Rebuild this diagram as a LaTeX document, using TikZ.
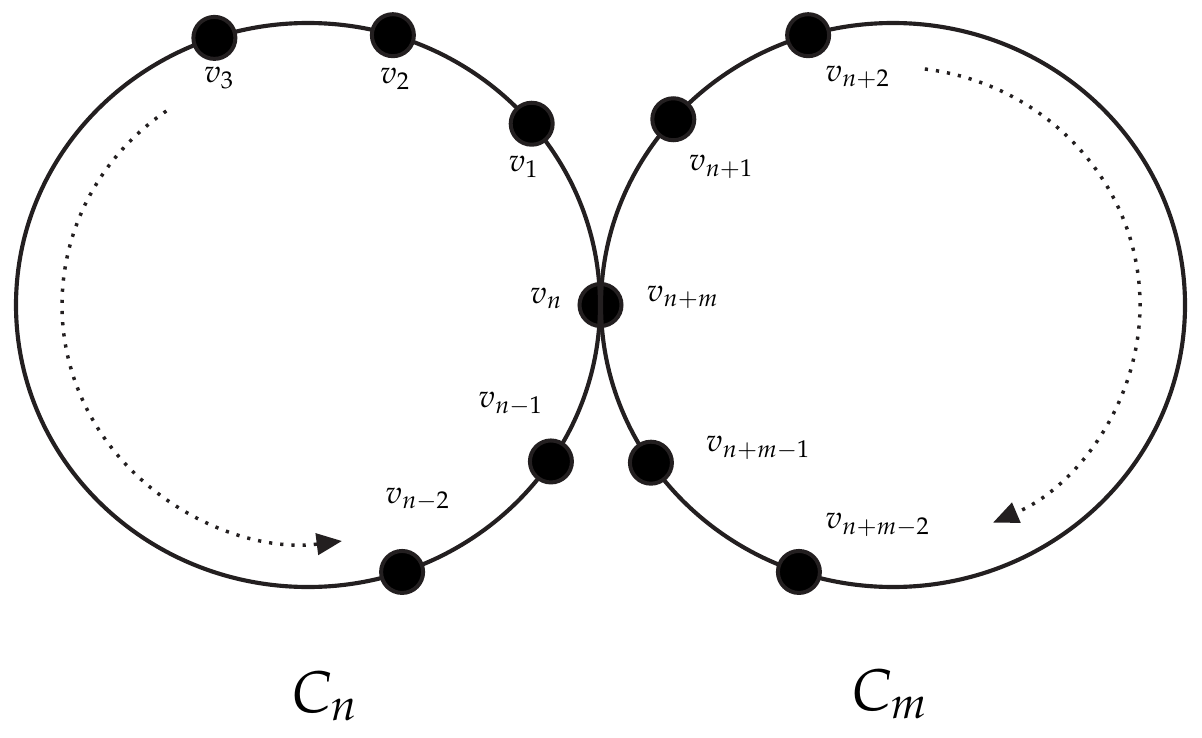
\documentclass[tikz,border=0pt]{standalone}
\usepackage{mathpazo}
\usetikzlibrary{arrows.meta}
\definecolor{ink}{RGB}{35,31,32}
\begin{document}
\begin{tikzpicture}[x=0.75pt,y=-0.75pt,
  cyc/.style={draw=ink,line width=3.1pt},
  vtx/.style={circle,draw=ink,fill=black,line width=3pt,minimum size=31.5pt,inner sep=0pt},
  lbl/.style={inner sep=0pt,font=\fontsize{24}{28}\selectfont},
  big/.style={inner sep=0pt,font=\fontsize{44}{50}\selectfont},
  dotarrow/.style={draw=ink,line width=2.6pt,dash pattern=on 2.4pt off 6pt,-{Triangle[length=19pt,width=16pt]}}]
\useasboundingbox (0,0) rectangle (1202,738);

% shared vertex drawn below the cycles
\node[vtx] (vn) at (600.5,305) {};

% the two cycles
\draw[cyc] (308,305) ellipse [x radius=292, y radius=282];
\draw[cyc] (893,305) ellipse [x radius=292, y radius=282];

% vertices of C_n
\begin{scope}[shift={(308,305)}]
  \node[vtx] (v3)  at (251.3:292 and 282) {};
  \node[vtx] (v2)  at (286.9:292 and 282) {};
  \node[vtx] (v1)  at (320:292 and 282) {};
  \node[vtx] (vn1) at (33.7:292 and 282) {};
  \node[vtx] (vn2) at (71.2:292 and 282) {};
\end{scope}

% vertices of C_m
\begin{scope}[shift={(893,305)}]
  \node[vtx] (vp1)  at (221.2:292 and 282) {};
  \node[vtx] (vp2)  at (253.1:292 and 282) {};
  \node[vtx] (vm1)  at (146:292 and 282) {};
  \node[vtx] (vm2)  at (108.8:292 and 282) {};
\end{scope}

% labels
\node[lbl] (lv3)  at (219,78)    {$v_3$};
\node[lbl] (lv2)  at (395,79)    {$v_2$};
\node[lbl] (lv1)  at (523.5,167) {$v_1$};
\node[lbl] (lvn)  at (546,298)   {$v_n$};
\node[lbl] (lvnm) at (682.5,297.5) {$v_{n+m}$};
\node[lbl] (lvn1) at (510.5,403.5) {$v_{n-1}$};
\node[lbl] (lvn2) at (417.5,499.5) {$v_{n-2}$};
\node[lbl] (lvp1) at (721,167)   {$v_{n+1}$};
\node[lbl] (lvp2) at (857.5,77.5) {$v_{n+2}$};
\node[lbl] (lvm1) at (758,447.5) {$v_{n+m-1}$};
\node[lbl] (lvm2) at (877.5,525) {$v_{n+m-2}$};
\node[big] (Cn) at (325,696) {$C_n$};
\node[big] (Cm) at (890,694) {$C_m$};

% direction arrows
\coordinate (La) at (310,305);
\coordinate (Ra) at (893,305);
\draw[dotarrow] (La) ++(234.6:248 and 238) arc[start angle=234.6, end angle=82.6, x radius=248, y radius=238];
\draw[dotarrow] (Ra) ++(277.4:247 and 238) arc[start angle=277.4, end angle=426.1, x radius=247, y radius=238];
\end{tikzpicture}
\end{document}
